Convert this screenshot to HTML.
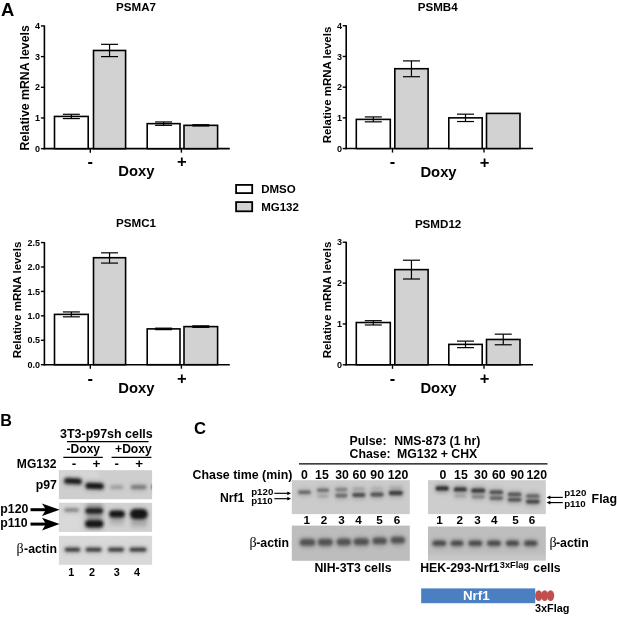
<!DOCTYPE html>
<html><head><meta charset="utf-8"><title>Figure</title>
<style>
html,body{margin:0;padding:0;background:#fff;}
body{width:617px;height:617px;overflow:hidden;position:relative;}
svg{position:absolute;left:0;top:0;display:block;}
svg text{font-family:"Liberation Sans", Arial, Helvetica, sans-serif;font-weight:bold;fill:#000;}
</style></head><body>
<svg width="617" height="617" viewBox="0 0 617 617">
<line x1="44.4" y1="25.43" x2="44.4" y2="149.4" stroke="#000" stroke-width="1.6"/>
<line x1="43.6" y1="148.65" x2="229.8" y2="148.65" stroke="#000" stroke-width="1.6"/>
<line x1="40.9" y1="148.65" x2="44.4" y2="148.65" stroke="#000" stroke-width="1.4"/>
<text x="40.1" y="151.75" font-size="9" text-anchor="end" >0</text>
<line x1="40.9" y1="117.97" x2="44.4" y2="117.97" stroke="#000" stroke-width="1.4"/>
<text x="40.1" y="121.07" font-size="9" text-anchor="end" >1</text>
<line x1="40.9" y1="87.29" x2="44.4" y2="87.29" stroke="#000" stroke-width="1.4"/>
<text x="40.1" y="90.39" font-size="9" text-anchor="end" >2</text>
<line x1="40.9" y1="56.61" x2="44.4" y2="56.61" stroke="#000" stroke-width="1.4"/>
<text x="40.1" y="59.71" font-size="9" text-anchor="end" >3</text>
<line x1="40.9" y1="25.93" x2="44.4" y2="25.93" stroke="#000" stroke-width="1.4"/>
<text x="40.1" y="29.03" font-size="9" text-anchor="end" >4</text>
<text x="136.1" y="11" font-size="11.6" text-anchor="middle" >PSMA7</text>
<rect x="54.5" y="116.44" width="33.7" height="32.21000000000001" fill="#fff" stroke="#000" stroke-width="1.6" />
<line x1="71.35" y1="114.29" x2="71.35" y2="118.58" stroke="#000" stroke-width="1.2"/>
<line x1="62.849999999999994" y1="114.29" x2="79.85" y2="114.29" stroke="#000" stroke-width="1.2"/>
<line x1="62.849999999999994" y1="118.58" x2="79.85" y2="118.58" stroke="#000" stroke-width="1.2"/>
<rect x="93.5" y="50.47" width="32.099999999999994" height="98.18" fill="#d2d2d2" stroke="#000" stroke-width="1.6" />
<line x1="109.55" y1="44.34" x2="109.55" y2="56.61" stroke="#000" stroke-width="1.2"/>
<line x1="101.05" y1="44.34" x2="118.05" y2="44.34" stroke="#000" stroke-width="1.2"/>
<line x1="101.05" y1="56.61" x2="118.05" y2="56.61" stroke="#000" stroke-width="1.2"/>
<rect x="147.2" y="123.65" width="32.80000000000001" height="25.0" fill="#fff" stroke="#000" stroke-width="1.6" />
<line x1="163.6" y1="121.96" x2="163.6" y2="125.33" stroke="#000" stroke-width="1.2"/>
<line x1="155.1" y1="121.96" x2="172.1" y2="121.96" stroke="#000" stroke-width="1.2"/>
<line x1="155.1" y1="125.33" x2="172.1" y2="125.33" stroke="#000" stroke-width="1.2"/>
<rect x="184" y="125.33" width="33.599999999999994" height="23.320000000000007" fill="#d2d2d2" stroke="#000" stroke-width="1.6" />
<line x1="200.8" y1="124.72" x2="200.8" y2="125.95" stroke="#000" stroke-width="1.2"/>
<line x1="192.3" y1="124.72" x2="209.3" y2="124.72" stroke="#000" stroke-width="1.2"/>
<line x1="192.3" y1="125.95" x2="209.3" y2="125.95" stroke="#000" stroke-width="1.2"/>
<line x1="90.3" y1="148.65" x2="90.3" y2="152.65" stroke="#000" stroke-width="1.4"/>
<line x1="181.4" y1="148.65" x2="181.4" y2="152.65" stroke="#000" stroke-width="1.4"/>
<text x="90.3" y="166.5" font-size="16.5" text-anchor="middle" >-</text>
<text x="181.9" y="167.2" font-size="16.5" text-anchor="middle" >+</text>
<text x="136.4" y="176.3" font-size="14.8" text-anchor="middle" >Doxy</text>
<text transform="translate(29.3,87.9) rotate(-90)" font-size="12.3" text-anchor="middle">Relative mRNA levels</text>
<line x1="346.2" y1="25.25" x2="346.2" y2="149.3" stroke="#000" stroke-width="1.6"/>
<line x1="345.4" y1="148.55" x2="533" y2="148.55" stroke="#000" stroke-width="1.6"/>
<line x1="342.7" y1="148.55" x2="346.2" y2="148.55" stroke="#000" stroke-width="1.4"/>
<text x="341.9" y="151.65" font-size="9" text-anchor="end" >0</text>
<line x1="342.7" y1="117.85" x2="346.2" y2="117.85" stroke="#000" stroke-width="1.4"/>
<text x="341.9" y="120.94999999999999" font-size="9" text-anchor="end" >1</text>
<line x1="342.7" y1="87.15" x2="346.2" y2="87.15" stroke="#000" stroke-width="1.4"/>
<text x="341.9" y="90.25" font-size="9" text-anchor="end" >2</text>
<line x1="342.7" y1="56.45" x2="346.2" y2="56.45" stroke="#000" stroke-width="1.4"/>
<text x="341.9" y="59.550000000000004" font-size="9" text-anchor="end" >3</text>
<line x1="342.7" y1="25.75" x2="346.2" y2="25.75" stroke="#000" stroke-width="1.4"/>
<text x="341.9" y="28.85" font-size="9" text-anchor="end" >4</text>
<text x="437.7" y="11" font-size="11.6" text-anchor="middle" >PSMB4</text>
<rect x="356.3" y="119.39" width="34.0" height="29.16000000000001" fill="#fff" stroke="#000" stroke-width="1.6" />
<line x1="373.3" y1="116.93" x2="373.3" y2="121.84" stroke="#000" stroke-width="1.2"/>
<line x1="364.8" y1="116.93" x2="381.8" y2="116.93" stroke="#000" stroke-width="1.2"/>
<line x1="364.8" y1="121.84" x2="381.8" y2="121.84" stroke="#000" stroke-width="1.2"/>
<rect x="394.8" y="68.73" width="33.30000000000001" height="79.82000000000001" fill="#d2d2d2" stroke="#000" stroke-width="1.6" />
<line x1="411.45000000000005" y1="60.9" x2="411.45000000000005" y2="76.71" stroke="#000" stroke-width="1.2"/>
<line x1="402.95000000000005" y1="60.9" x2="419.95000000000005" y2="60.9" stroke="#000" stroke-width="1.2"/>
<line x1="402.95000000000005" y1="76.71" x2="419.95000000000005" y2="76.71" stroke="#000" stroke-width="1.2"/>
<rect x="448.8" y="117.85" width="33.39999999999998" height="30.700000000000017" fill="#fff" stroke="#000" stroke-width="1.6" />
<line x1="465.5" y1="114.17" x2="465.5" y2="121.53" stroke="#000" stroke-width="1.2"/>
<line x1="457.0" y1="114.17" x2="474.0" y2="114.17" stroke="#000" stroke-width="1.2"/>
<line x1="457.0" y1="121.53" x2="474.0" y2="121.53" stroke="#000" stroke-width="1.2"/>
<rect x="486.5" y="113.4" width="33.5" height="35.150000000000006" fill="#d2d2d2" stroke="#000" stroke-width="1.6" />
<line x1="392.5" y1="148.55" x2="392.5" y2="152.55" stroke="#000" stroke-width="1.4"/>
<line x1="484.0" y1="148.55" x2="484.0" y2="152.55" stroke="#000" stroke-width="1.4"/>
<text x="392.5" y="166.8" font-size="16.5" text-anchor="middle" >-</text>
<text x="484.5" y="167.5" font-size="16.5" text-anchor="middle" >+</text>
<text x="438.5" y="176.6" font-size="14.8" text-anchor="middle" >Doxy</text>
<text transform="translate(330.6,85.0) rotate(-90)" font-size="11.45" text-anchor="middle">Relative mRNA levels</text>
<line x1="44.4" y1="242.07" x2="44.4" y2="365.45" stroke="#000" stroke-width="1.6"/>
<line x1="43.6" y1="364.7" x2="229.8" y2="364.7" stroke="#000" stroke-width="1.6"/>
<line x1="40.9" y1="364.7" x2="44.4" y2="364.7" stroke="#000" stroke-width="1.4"/>
<text x="40.1" y="367.8" font-size="9" text-anchor="end" >0.0</text>
<line x1="40.9" y1="340.27" x2="44.4" y2="340.27" stroke="#000" stroke-width="1.4"/>
<text x="40.1" y="343.37" font-size="9" text-anchor="end" >0.5</text>
<line x1="40.9" y1="315.85" x2="44.4" y2="315.85" stroke="#000" stroke-width="1.4"/>
<text x="40.1" y="318.95000000000005" font-size="9" text-anchor="end" >1.0</text>
<line x1="40.9" y1="291.42" x2="44.4" y2="291.42" stroke="#000" stroke-width="1.4"/>
<text x="40.1" y="294.52000000000004" font-size="9" text-anchor="end" >1.5</text>
<line x1="40.9" y1="267.0" x2="44.4" y2="267.0" stroke="#000" stroke-width="1.4"/>
<text x="40.1" y="270.1" font-size="9" text-anchor="end" >2.0</text>
<line x1="40.9" y1="242.57" x2="44.4" y2="242.57" stroke="#000" stroke-width="1.4"/>
<text x="40.1" y="245.67" font-size="9" text-anchor="end" >2.5</text>
<text x="136" y="227.3" font-size="11.6" text-anchor="middle" >PSMC1</text>
<rect x="54.5" y="314.38" width="33.7" height="50.31999999999999" fill="#fff" stroke="#000" stroke-width="1.6" />
<line x1="71.35" y1="311.94" x2="71.35" y2="316.83" stroke="#000" stroke-width="1.2"/>
<line x1="62.849999999999994" y1="311.94" x2="79.85" y2="311.94" stroke="#000" stroke-width="1.2"/>
<line x1="62.849999999999994" y1="316.83" x2="79.85" y2="316.83" stroke="#000" stroke-width="1.2"/>
<rect x="93.5" y="257.72" width="32.099999999999994" height="106.97999999999996" fill="#d2d2d2" stroke="#000" stroke-width="1.6" />
<line x1="109.55" y1="252.83" x2="109.55" y2="263.09" stroke="#000" stroke-width="1.2"/>
<line x1="101.05" y1="252.83" x2="118.05" y2="252.83" stroke="#000" stroke-width="1.2"/>
<line x1="101.05" y1="263.09" x2="118.05" y2="263.09" stroke="#000" stroke-width="1.2"/>
<rect x="147.2" y="328.89" width="32.80000000000001" height="35.81" fill="#fff" stroke="#000" stroke-width="1.6" />
<line x1="163.6" y1="328.16" x2="163.6" y2="329.63" stroke="#000" stroke-width="1.2"/>
<line x1="155.1" y1="328.16" x2="172.1" y2="328.16" stroke="#000" stroke-width="1.2"/>
<line x1="155.1" y1="329.63" x2="172.1" y2="329.63" stroke="#000" stroke-width="1.2"/>
<rect x="184" y="326.6" width="33.599999999999994" height="38.099999999999966" fill="#d2d2d2" stroke="#000" stroke-width="1.6" />
<line x1="200.8" y1="325.86" x2="200.8" y2="327.33" stroke="#000" stroke-width="1.2"/>
<line x1="192.3" y1="325.86" x2="209.3" y2="325.86" stroke="#000" stroke-width="1.2"/>
<line x1="192.3" y1="327.33" x2="209.3" y2="327.33" stroke="#000" stroke-width="1.2"/>
<line x1="90.3" y1="364.7" x2="90.3" y2="368.7" stroke="#000" stroke-width="1.4"/>
<line x1="181.4" y1="364.7" x2="181.4" y2="368.7" stroke="#000" stroke-width="1.4"/>
<text x="90.3" y="383.7" font-size="16.5" text-anchor="middle" >-</text>
<text x="181.9" y="384.4" font-size="16.5" text-anchor="middle" >+</text>
<text x="136.4" y="393" font-size="14.8" text-anchor="middle" >Doxy</text>
<text transform="translate(21.4,300) rotate(-90)" font-size="11.45" text-anchor="middle">Relative mRNA levels</text>
<line x1="346.2" y1="241.75" x2="346.2" y2="365.55" stroke="#000" stroke-width="1.6"/>
<line x1="345.4" y1="364.8" x2="533" y2="364.8" stroke="#000" stroke-width="1.6"/>
<line x1="342.7" y1="364.8" x2="346.2" y2="364.8" stroke="#000" stroke-width="1.4"/>
<text x="341.9" y="367.90000000000003" font-size="9" text-anchor="end" >0</text>
<line x1="342.7" y1="323.95" x2="346.2" y2="323.95" stroke="#000" stroke-width="1.4"/>
<text x="341.9" y="327.05" font-size="9" text-anchor="end" >1</text>
<line x1="342.7" y1="283.1" x2="346.2" y2="283.1" stroke="#000" stroke-width="1.4"/>
<text x="341.9" y="286.20000000000005" font-size="9" text-anchor="end" >2</text>
<line x1="342.7" y1="242.25" x2="346.2" y2="242.25" stroke="#000" stroke-width="1.4"/>
<text x="341.9" y="245.35" font-size="9" text-anchor="end" >3</text>
<text x="438.1" y="227.5" font-size="11.6" text-anchor="middle" >PSMD12</text>
<rect x="356.3" y="322.52" width="34.0" height="42.28000000000003" fill="#fff" stroke="#000" stroke-width="1.6" />
<line x1="373.3" y1="320.68" x2="373.3" y2="324.97" stroke="#000" stroke-width="1.2"/>
<line x1="364.8" y1="320.68" x2="381.8" y2="320.68" stroke="#000" stroke-width="1.2"/>
<line x1="364.8" y1="324.97" x2="381.8" y2="324.97" stroke="#000" stroke-width="1.2"/>
<rect x="394.8" y="269.62" width="33.30000000000001" height="95.18" fill="#d2d2d2" stroke="#000" stroke-width="1.6" />
<line x1="411.45000000000005" y1="260.22" x2="411.45000000000005" y2="279.01" stroke="#000" stroke-width="1.2"/>
<line x1="402.95000000000005" y1="260.22" x2="419.95000000000005" y2="260.22" stroke="#000" stroke-width="1.2"/>
<line x1="402.95000000000005" y1="279.01" x2="419.95000000000005" y2="279.01" stroke="#000" stroke-width="1.2"/>
<rect x="448.8" y="344.38" width="33.39999999999998" height="20.420000000000016" fill="#fff" stroke="#000" stroke-width="1.6" />
<line x1="465.5" y1="341.11" x2="465.5" y2="347.64" stroke="#000" stroke-width="1.2"/>
<line x1="457.0" y1="341.11" x2="474.0" y2="341.11" stroke="#000" stroke-width="1.2"/>
<line x1="457.0" y1="347.64" x2="474.0" y2="347.64" stroke="#000" stroke-width="1.2"/>
<rect x="486.5" y="339.47" width="33.5" height="25.329999999999984" fill="#d2d2d2" stroke="#000" stroke-width="1.6" />
<line x1="503.25" y1="334.16" x2="503.25" y2="344.78" stroke="#000" stroke-width="1.2"/>
<line x1="494.75" y1="334.16" x2="511.75" y2="334.16" stroke="#000" stroke-width="1.2"/>
<line x1="494.75" y1="344.78" x2="511.75" y2="344.78" stroke="#000" stroke-width="1.2"/>
<line x1="392.5" y1="364.8" x2="392.5" y2="368.8" stroke="#000" stroke-width="1.4"/>
<line x1="484.0" y1="364.8" x2="484.0" y2="368.8" stroke="#000" stroke-width="1.4"/>
<text x="392.5" y="383.7" font-size="16.5" text-anchor="middle" >-</text>
<text x="484.5" y="384.4" font-size="16.5" text-anchor="middle" >+</text>
<text x="438.5" y="393" font-size="14.8" text-anchor="middle" >Doxy</text>
<text transform="translate(330.6,300) rotate(-90)" font-size="11.45" text-anchor="middle">Relative mRNA levels</text>
<rect x="236.1" y="184.9" width="16.1" height="8.2" fill="#fff" stroke="#000" stroke-width="1.8" />
<rect x="236.1" y="202.1" width="16.1" height="9.2" fill="#d2d2d2" stroke="#000" stroke-width="1.8" />
<text x="261.2" y="193.3" font-size="11.5" text-anchor="start" >DMSO</text>
<text x="261.2" y="211.0" font-size="11.5" text-anchor="start" >MG132</text>
<text x="0.9" y="15.6" font-size="18.4" text-anchor="start" >A</text>
<text x="0.3" y="426.2" font-size="16.2" text-anchor="start" >B</text>
<text x="194.0" y="433.8" font-size="16.6" text-anchor="start" >C</text>
<defs><filter id="b0" x="-30%" y="-100%" width="160%" height="300%"><feGaussianBlur stdDeviation="1.0"/></filter><filter id="b1" x="-30%" y="-100%" width="160%" height="300%"><feGaussianBlur stdDeviation="1.5"/></filter><filter id="b2" x="-30%" y="-100%" width="160%" height="300%"><feGaussianBlur stdDeviation="2.0"/></filter></defs>
<text x="106.4" y="437.8" font-size="12.45" text-anchor="middle" >3T3-p97sh cells</text>
<line x1="67" y1="441.6" x2="148.5" y2="441.6" stroke="#000" stroke-width="1.3"/>
<text x="83.3" y="453.3" font-size="12.1" text-anchor="middle" >-Doxy</text>
<text x="133.4" y="453.3" font-size="12.1" text-anchor="middle" >+Doxy</text>
<line x1="63.3" y1="457.3" x2="102.8" y2="457.3" stroke="#000" stroke-width="1.3"/>
<line x1="111.6" y1="457.3" x2="151.4" y2="457.3" stroke="#000" stroke-width="1.3"/>
<text x="56.5" y="467.8" font-size="12.1" text-anchor="end" >MG132</text>
<text x="73.9" y="468.3" font-size="13.5" text-anchor="middle" >-</text>
<text x="96.5" y="468.3" font-size="13.5" text-anchor="middle" >+</text>
<text x="116.7" y="468.3" font-size="13.5" text-anchor="middle" >-</text>
<text x="139.3" y="468.3" font-size="13.5" text-anchor="middle" >+</text>
<clipPath id="cb1"><rect x="58.9" y="470.2" width="93.2" height="29.0"/></clipPath>
<rect x="58.9" y="470.2" width="93.2" height="29.0" fill="#cecece"/>
<g clip-path="url(#cb1)">
<rect x="58.9" y="470.2" width="40" height="8" fill="#dcdcdc" opacity="0.6" filter="url(#b2)"/>
<rect x="63.25" y="476.30" width="19.50" height="10.30" rx="4.90" fill="#1c1c1c" opacity="0.15" filter="url(#b2)" transform="rotate(3 73.0 481.2)"/>
<rect x="64.25" y="478.30" width="17.50" height="5.80" rx="2.90" fill="#1c1c1c" opacity="1" filter="url(#b1)" transform="rotate(3 73.0 481.2)"/>
<rect x="84.35" y="480.90" width="20.50" height="10.70" rx="5.10" fill="#181818" opacity="0.15" filter="url(#b2)" transform="rotate(2 94.6 486.0)"/>
<rect x="85.35" y="482.90" width="18.50" height="6.20" rx="3.10" fill="#181818" opacity="1" filter="url(#b1)" transform="rotate(2 94.6 486.0)"/>
<rect x="109.30" y="483.50" width="15.00" height="7.90" rx="3.70" fill="#777" opacity="0.08" filter="url(#b2)"/>
<rect x="110.30" y="485.50" width="13.00" height="3.40" rx="1.70" fill="#777" opacity="0.55" filter="url(#b1)"/>
<rect x="129.85" y="483.10" width="17.50" height="8.70" rx="4.10" fill="#5a5a5a" opacity="0.10" filter="url(#b2)"/>
<rect x="130.85" y="485.10" width="15.50" height="4.20" rx="2.10" fill="#5a5a5a" opacity="0.7" filter="url(#b1)"/>
<rect x="151.05" y="484.00" width="2.50" height="6.00" rx="3.00" fill="#555" opacity="0.7" filter="url(#b0)"/>
</g>
<clipPath id="cb2"><rect x="58.9" y="502.8" width="93.2" height="29.1"/></clipPath>
<rect x="58.9" y="502.8" width="93.2" height="29.1" fill="#d2d2d2"/>
<g clip-path="url(#cb2)">
<rect x="58.9" y="503" width="22" height="29" fill="#e0e0e0" opacity="0.5" filter="url(#b2)"/>
<rect x="86.5" y="503" width="16" height="24" fill="#333" opacity="0.28" filter="url(#b2)"/>
<rect x="110" y="512" width="14" height="13" fill="#333" opacity="0.18" filter="url(#b2)"/>
<rect x="131" y="512" width="16" height="15" fill="#333" opacity="0.22" filter="url(#b2)"/>
<rect x="63.35" y="506.40" width="16.50" height="7.70" rx="3.60" fill="#555" opacity="0.10" filter="url(#b2)"/>
<rect x="64.35" y="508.40" width="14.50" height="3.20" rx="1.60" fill="#555" opacity="0.7" filter="url(#b1)"/>
<rect x="84.45" y="506.20" width="19.50" height="9.70" rx="4.60" fill="#1a1a1a" opacity="0.15" filter="url(#b2)"/>
<rect x="85.45" y="508.20" width="17.50" height="5.20" rx="2.60" fill="#1a1a1a" opacity="1" filter="url(#b1)"/>
<rect x="84.20" y="518.20" width="20.00" height="11.70" rx="5.60" fill="#161616" opacity="0.15" filter="url(#b2)"/>
<rect x="85.20" y="520.20" width="18.00" height="7.20" rx="3.60" fill="#161616" opacity="1" filter="url(#b1)"/>
<rect x="108.25" y="508.40" width="17.50" height="11.70" rx="5.60" fill="#181818" opacity="0.15" filter="url(#b2)"/>
<rect x="109.25" y="510.40" width="15.50" height="7.20" rx="3.60" fill="#181818" opacity="1" filter="url(#b1)"/>
<rect x="129.05" y="506.90" width="19.50" height="14.70" rx="7.10" fill="#141414" opacity="0.15" filter="url(#b2)"/>
<rect x="130.05" y="508.90" width="17.50" height="10.20" rx="5.10" fill="#141414" opacity="1" filter="url(#b1)"/>
</g>
<clipPath id="cb3"><rect x="58.9" y="535.8" width="93.2" height="29.0"/></clipPath>
<rect x="58.9" y="535.8" width="93.2" height="29.0" fill="#d9d9d9"/>
<g clip-path="url(#cb3)">
<rect x="63.75" y="545.70" width="17.50" height="8.30" rx="3.90" fill="#2a2a2a" opacity="0.14" filter="url(#b2)"/>
<rect x="64.75" y="547.70" width="15.50" height="3.80" rx="1.90" fill="#2a2a2a" opacity="0.95" filter="url(#b1)"/>
<rect x="84.60" y="545.70" width="18.00" height="8.30" rx="3.90" fill="#2a2a2a" opacity="0.14" filter="url(#b2)"/>
<rect x="85.60" y="547.70" width="16.00" height="3.80" rx="1.90" fill="#2a2a2a" opacity="0.95" filter="url(#b1)"/>
<rect x="107.00" y="545.70" width="18.00" height="8.30" rx="3.90" fill="#2a2a2a" opacity="0.14" filter="url(#b2)"/>
<rect x="108.00" y="547.70" width="16.00" height="3.80" rx="1.90" fill="#2a2a2a" opacity="0.95" filter="url(#b1)"/>
<rect x="128.50" y="545.70" width="19.00" height="8.30" rx="3.90" fill="#2a2a2a" opacity="0.14" filter="url(#b2)"/>
<rect x="129.50" y="547.70" width="17.00" height="3.80" rx="1.90" fill="#2a2a2a" opacity="0.95" filter="url(#b1)"/>
</g>
<text x="56.9" y="488.7" font-size="12.3" text-anchor="end" >p97</text>
<text x="0.3" y="513.0" font-size="12.3" text-anchor="start" >p120</text>
<text x="0.3" y="526.7" font-size="12.3" text-anchor="start" >p110</text>
<text x="56.9" y="552.6" font-size="12.3" text-anchor="end" >-actin</text>
<text x="16.6" y="552.6" font-size="14" style="font-family:'Liberation Serif','DejaVu Serif',serif;font-weight:normal;font-style:normal">β</text>
<line x1="30.5" y1="509.7" x2="46" y2="509.7" stroke="#000" stroke-width="3.0"/>
<polygon points="59.6,509.7 42.0,503.4 46.0,509.7 42.0,516.0" fill="#000"/>
<line x1="30.5" y1="524.1" x2="46" y2="524.1" stroke="#000" stroke-width="3.0"/>
<polygon points="59.6,524.1 42.0,517.8000000000001 46.0,524.1 42.0,530.4" fill="#000"/>
<text x="71.3" y="576" font-size="10.8" text-anchor="middle" >1</text>
<text x="92" y="576" font-size="10.8" text-anchor="middle" >2</text>
<text x="116.7" y="576" font-size="10.8" text-anchor="middle" >3</text>
<text x="136.9" y="576" font-size="10.8" text-anchor="middle" >4</text>
<text x="349.6" y="444.8" font-size="12.3" text-anchor="start" >Pulse:</text>
<text x="394.2" y="444.8" font-size="12.3" text-anchor="start" >NMS-873 (1 hr)</text>
<text x="349.6" y="458.0" font-size="12.3" text-anchor="start" >Chase:</text>
<text x="397" y="458.0" font-size="12.3" text-anchor="start" >MG132 + CHX</text>
<line x1="299" y1="463.9" x2="547.5" y2="463.9" stroke="#000" stroke-width="1.3"/>
<text x="292.4" y="478.6" font-size="12.4" text-anchor="end" >Chase time (min)</text>
<text x="304.3" y="478.6" font-size="12.3" text-anchor="middle" >0</text>
<text x="321.9" y="478.6" font-size="12.3" text-anchor="middle" >15</text>
<text x="342.1" y="478.6" font-size="12.3" text-anchor="middle" >30</text>
<text x="359.4" y="478.6" font-size="12.3" text-anchor="middle" >60</text>
<text x="377.2" y="478.6" font-size="12.3" text-anchor="middle" >90</text>
<text x="398.0" y="478.6" font-size="12.3" text-anchor="middle" >120</text>
<text x="442.9" y="478.9" font-size="12.3" text-anchor="middle" >0</text>
<text x="460.9" y="478.9" font-size="12.3" text-anchor="middle" >15</text>
<text x="480.9" y="478.9" font-size="12.3" text-anchor="middle" >30</text>
<text x="498.8" y="478.9" font-size="12.3" text-anchor="middle" >60</text>
<text x="517.3" y="478.9" font-size="12.3" text-anchor="middle" >90</text>
<text x="536.8" y="478.9" font-size="12.3" text-anchor="middle" >120</text>
<clipPath id="cc1"><rect x="291.8" y="480.2" width="118.0" height="33.9"/></clipPath>
<rect x="291.8" y="480.2" width="118.0" height="33.9" fill="#cbcbcb"/>
<g clip-path="url(#cc1)">
<rect x="297.25" y="488.50" width="14.50" height="7.90" rx="3.70" fill="#555" opacity="0.24" filter="url(#b2)"/>
<rect x="298.25" y="490.50" width="12.50" height="3.40" rx="1.70" fill="#555" opacity="0.8" filter="url(#b0)"/>
<rect x="316.00" y="486.60" width="14.00" height="7.90" rx="3.70" fill="#555" opacity="0.21" filter="url(#b2)"/>
<rect x="317.00" y="488.60" width="12.00" height="3.40" rx="1.70" fill="#555" opacity="0.7" filter="url(#b0)"/>
<rect x="316.50" y="492.70" width="13.00" height="7.50" rx="3.50" fill="#777" opacity="0.10" filter="url(#b2)"/>
<rect x="317.50" y="494.70" width="11.00" height="3.00" rx="1.50" fill="#777" opacity="0.35" filter="url(#b0)"/>
<rect x="334.30" y="485.80" width="14.00" height="7.90" rx="3.70" fill="#666" opacity="0.20" filter="url(#b2)"/>
<rect x="335.30" y="487.80" width="12.00" height="3.40" rx="1.70" fill="#666" opacity="0.65" filter="url(#b0)"/>
<rect x="334.30" y="491.80" width="14.00" height="8.10" rx="3.80" fill="#555" opacity="0.22" filter="url(#b2)"/>
<rect x="335.30" y="493.80" width="12.00" height="3.60" rx="1.80" fill="#555" opacity="0.75" filter="url(#b0)"/>
<rect x="351.55" y="485.10" width="14.50" height="7.90" rx="3.70" fill="#888" opacity="0.12" filter="url(#b2)"/>
<rect x="352.55" y="487.10" width="12.50" height="3.40" rx="1.70" fill="#888" opacity="0.4" filter="url(#b0)"/>
<rect x="351.30" y="491.00" width="15.00" height="8.50" rx="4.00" fill="#404040" opacity="0.26" filter="url(#b2)"/>
<rect x="352.30" y="493.00" width="13.00" height="4.00" rx="2.00" fill="#404040" opacity="0.85" filter="url(#b0)"/>
<rect x="369.75" y="484.50" width="14.50" height="7.90" rx="3.70" fill="#999" opacity="0.10" filter="url(#b2)"/>
<rect x="370.75" y="486.50" width="12.50" height="3.40" rx="1.70" fill="#999" opacity="0.35" filter="url(#b0)"/>
<rect x="369.50" y="490.40" width="15.00" height="8.50" rx="4.00" fill="#444" opacity="0.26" filter="url(#b2)"/>
<rect x="370.50" y="492.40" width="13.00" height="4.00" rx="2.00" fill="#444" opacity="0.85" filter="url(#b0)"/>
<rect x="388.30" y="483.40" width="15.00" height="8.10" rx="3.80" fill="#999" opacity="0.10" filter="url(#b2)"/>
<rect x="389.30" y="485.40" width="13.00" height="3.60" rx="1.80" fill="#999" opacity="0.35" filter="url(#b0)"/>
<rect x="387.80" y="488.70" width="16.00" height="9.10" rx="4.30" fill="#383838" opacity="0.27" filter="url(#b2)"/>
<rect x="388.80" y="490.70" width="14.00" height="4.60" rx="2.30" fill="#383838" opacity="0.9" filter="url(#b0)"/>
</g>
<clipPath id="cc2"><rect x="291.8" y="525.6" width="118.0" height="35.2"/></clipPath>
<rect x="291.8" y="525.6" width="118.0" height="35.2" fill="#bdbdbd"/>
<g clip-path="url(#cc2)">
<rect x="299.00" y="537.20" width="17.00" height="10.90" rx="5.20" fill="#484848" opacity="0.27" filter="url(#b2)"/>
<rect x="300.00" y="539.20" width="15.00" height="6.40" rx="3.20" fill="#484848" opacity="0.9" filter="url(#b1)"/>
<rect x="317.05" y="537.10" width="16.50" height="10.90" rx="5.20" fill="#484848" opacity="0.27" filter="url(#b2)"/>
<rect x="318.05" y="539.10" width="14.50" height="6.40" rx="3.20" fill="#484848" opacity="0.9" filter="url(#b1)"/>
<rect x="335.80" y="536.80" width="16.00" height="10.90" rx="5.20" fill="#484848" opacity="0.27" filter="url(#b2)"/>
<rect x="336.80" y="538.80" width="14.00" height="6.40" rx="3.20" fill="#484848" opacity="0.9" filter="url(#b1)"/>
<rect x="352.80" y="536.50" width="17.00" height="10.90" rx="5.20" fill="#484848" opacity="0.27" filter="url(#b2)"/>
<rect x="353.80" y="538.50" width="15.00" height="6.40" rx="3.20" fill="#484848" opacity="0.9" filter="url(#b1)"/>
<rect x="371.60" y="535.70" width="16.00" height="10.90" rx="5.20" fill="#484848" opacity="0.27" filter="url(#b2)"/>
<rect x="372.60" y="537.70" width="14.00" height="6.40" rx="3.20" fill="#484848" opacity="0.9" filter="url(#b1)"/>
<rect x="389.80" y="534.90" width="16.00" height="10.90" rx="5.20" fill="#484848" opacity="0.27" filter="url(#b2)"/>
<rect x="390.80" y="536.90" width="14.00" height="6.40" rx="3.20" fill="#484848" opacity="0.9" filter="url(#b1)"/>
</g>
<clipPath id="cc3"><rect x="428" y="480.2" width="117.8" height="33.9"/></clipPath>
<rect x="428" y="480.2" width="117.8" height="33.9" fill="#cdcdcd"/>
<g clip-path="url(#cc3)">
<rect x="434.70" y="484.20" width="15.00" height="8.90" rx="4.20" fill="#2c2c2c" opacity="0.28" filter="url(#b2)"/>
<rect x="435.70" y="486.20" width="13.00" height="4.40" rx="2.20" fill="#2c2c2c" opacity="0.95" filter="url(#b0)"/>
<rect x="452.80" y="485.20" width="15.00" height="8.90" rx="4.20" fill="#303030" opacity="0.27" filter="url(#b2)"/>
<rect x="453.80" y="487.20" width="13.00" height="4.40" rx="2.20" fill="#303030" opacity="0.9" filter="url(#b0)"/>
<rect x="453.30" y="492.40" width="14.00" height="7.50" rx="3.50" fill="#777" opacity="0.12" filter="url(#b2)"/>
<rect x="454.30" y="494.40" width="12.00" height="3.00" rx="1.50" fill="#777" opacity="0.4" filter="url(#b0)"/>
<rect x="470.20" y="486.60" width="16.00" height="8.70" rx="4.10" fill="#333" opacity="0.27" filter="url(#b2)"/>
<rect x="471.20" y="488.60" width="14.00" height="4.20" rx="2.10" fill="#333" opacity="0.9" filter="url(#b0)"/>
<rect x="470.70" y="493.10" width="15.00" height="7.90" rx="3.70" fill="#666" opacity="0.18" filter="url(#b2)"/>
<rect x="471.70" y="495.10" width="13.00" height="3.40" rx="1.70" fill="#666" opacity="0.6" filter="url(#b0)"/>
<rect x="488.55" y="488.30" width="15.50" height="8.50" rx="4.00" fill="#444" opacity="0.26" filter="url(#b2)"/>
<rect x="489.55" y="490.30" width="13.50" height="4.00" rx="2.00" fill="#444" opacity="0.85" filter="url(#b0)"/>
<rect x="488.55" y="494.20" width="15.50" height="8.30" rx="3.90" fill="#555" opacity="0.24" filter="url(#b2)"/>
<rect x="489.55" y="496.20" width="13.50" height="3.80" rx="1.90" fill="#555" opacity="0.8" filter="url(#b0)"/>
<rect x="506.85" y="490.60" width="15.50" height="8.10" rx="3.80" fill="#4a4a4a" opacity="0.26" filter="url(#b2)"/>
<rect x="507.85" y="492.60" width="13.50" height="3.60" rx="1.80" fill="#4a4a4a" opacity="0.85" filter="url(#b0)"/>
<rect x="506.85" y="496.00" width="15.50" height="8.10" rx="3.80" fill="#444" opacity="0.26" filter="url(#b2)"/>
<rect x="507.85" y="498.00" width="13.50" height="3.60" rx="1.80" fill="#444" opacity="0.85" filter="url(#b0)"/>
<rect x="525.05" y="492.30" width="15.50" height="7.90" rx="3.70" fill="#555" opacity="0.24" filter="url(#b2)"/>
<rect x="526.05" y="494.30" width="13.50" height="3.40" rx="1.70" fill="#555" opacity="0.8" filter="url(#b0)"/>
<rect x="525.05" y="497.70" width="15.50" height="8.30" rx="3.90" fill="#3a3a3a" opacity="0.27" filter="url(#b2)"/>
<rect x="526.05" y="499.70" width="13.50" height="3.80" rx="1.90" fill="#3a3a3a" opacity="0.9" filter="url(#b0)"/>
</g>
<clipPath id="cc4"><rect x="428" y="526.5" width="117.8" height="34.0"/></clipPath>
<rect x="428" y="526.5" width="117.8" height="34.0" fill="#bebebe"/>
<g clip-path="url(#cc4)">
<rect x="428" y="555" width="118" height="6" fill="#d0d0d0" opacity="0.55" filter="url(#b1)"/>
<rect x="431.55" y="538.80" width="15.50" height="9.50" rx="4.50" fill="#3c3c3c" opacity="0.23" filter="url(#b2)"/>
<rect x="432.55" y="540.80" width="13.50" height="5.00" rx="2.50" fill="#3c3c3c" opacity="0.9" filter="url(#b1)"/>
<rect x="449.75" y="538.80" width="14.50" height="9.50" rx="4.50" fill="#3c3c3c" opacity="0.23" filter="url(#b2)"/>
<rect x="450.75" y="540.80" width="12.50" height="5.00" rx="2.50" fill="#3c3c3c" opacity="0.9" filter="url(#b1)"/>
<rect x="467.55" y="538.80" width="15.50" height="9.50" rx="4.50" fill="#3c3c3c" opacity="0.23" filter="url(#b2)"/>
<rect x="468.55" y="540.80" width="13.50" height="5.00" rx="2.50" fill="#3c3c3c" opacity="0.9" filter="url(#b1)"/>
<rect x="486.25" y="538.80" width="15.50" height="9.50" rx="4.50" fill="#3c3c3c" opacity="0.23" filter="url(#b2)"/>
<rect x="487.25" y="540.80" width="13.50" height="5.00" rx="2.50" fill="#3c3c3c" opacity="0.9" filter="url(#b1)"/>
<rect x="505.00" y="538.80" width="15.00" height="9.50" rx="4.50" fill="#3c3c3c" opacity="0.23" filter="url(#b2)"/>
<rect x="506.00" y="540.80" width="13.00" height="5.00" rx="2.50" fill="#3c3c3c" opacity="0.9" filter="url(#b1)"/>
<rect x="523.20" y="538.80" width="15.00" height="9.50" rx="4.50" fill="#3c3c3c" opacity="0.23" filter="url(#b2)"/>
<rect x="524.20" y="540.80" width="13.00" height="5.00" rx="2.50" fill="#3c3c3c" opacity="0.9" filter="url(#b1)"/>
</g>
<text x="244.3" y="501.8" font-size="12.2" text-anchor="end" >Nrf1</text>
<text x="251.2" y="494.6" font-size="9.7" text-anchor="start" >p120</text>
<text x="251.2" y="504.4" font-size="9.7" text-anchor="start" >p110</text>
<line x1="274.3" y1="493.3" x2="288.5" y2="493.3" stroke="#000" stroke-width="1.15"/>
<polygon points="291.0,493.3 287.3,491.40000000000003 287.3,495.2" fill="#000"/>
<line x1="274.3" y1="498.7" x2="288.5" y2="498.7" stroke="#000" stroke-width="1.15"/>
<polygon points="291.0,498.7 287.3,496.8 287.3,500.59999999999997" fill="#000"/>
<text x="306.8" y="524.2" font-size="11.7" text-anchor="middle" >1</text>
<text x="323.9" y="524.2" font-size="11.7" text-anchor="middle" >2</text>
<text x="341.4" y="524.2" font-size="11.7" text-anchor="middle" >3</text>
<text x="358.5" y="524.2" font-size="11.7" text-anchor="middle" >4</text>
<text x="379.5" y="524.2" font-size="11.7" text-anchor="middle" >5</text>
<text x="397" y="524.2" font-size="11.7" text-anchor="middle" >6</text>
<text x="439.4" y="524.4" font-size="11.7" text-anchor="middle" >1</text>
<text x="459.8" y="524.4" font-size="11.7" text-anchor="middle" >2</text>
<text x="477.4" y="524.4" font-size="11.7" text-anchor="middle" >3</text>
<text x="494.3" y="524.4" font-size="11.7" text-anchor="middle" >4</text>
<text x="515.4" y="524.4" font-size="11.7" text-anchor="middle" >5</text>
<text x="531.9" y="524.4" font-size="11.7" text-anchor="middle" >6</text>
<text x="289" y="547.3" font-size="12.3" text-anchor="end" >-actin</text>
<text x="249.5" y="547.3" font-size="14" style="font-family:'Liberation Serif','DejaVu Serif',serif;font-weight:normal;font-style:normal">β</text>
<text x="353" y="571.6" font-size="12.3" text-anchor="middle" >NIH-3T3 cells</text>
<line x1="549" y1="497.4" x2="562.8" y2="497.4" stroke="#000" stroke-width="1.15"/>
<polygon points="546.6,497.4 550.4,495.5 550.4,499.29999999999995" fill="#000"/>
<line x1="549" y1="502.6" x2="562.8" y2="502.6" stroke="#000" stroke-width="1.15"/>
<polygon points="546.6,502.6 550.4,500.70000000000005 550.4,504.5" fill="#000"/>
<text x="564.2" y="496.0" font-size="9.7" text-anchor="start" >p120</text>
<text x="564.2" y="506.5" font-size="9.7" text-anchor="start" >p110</text>
<text x="591.6" y="503.0" font-size="12.4" text-anchor="start" >Flag</text>
<text x="588.8" y="547.0" font-size="12.3" text-anchor="end" >-actin</text>
<text x="549.4" y="547.0" font-size="14" style="font-family:'Liberation Serif','DejaVu Serif',serif;font-weight:normal;font-style:normal">β</text>
<text x="420.2" y="572" font-size="12.3" text-anchor="start" >HEK-293-Nrf1</text>
<text x="499.8" y="568.0" font-size="9.2" text-anchor="start" >3xFlag</text>
<text x="533.3" y="572" font-size="12.3" text-anchor="start" >cells</text>
<rect x="421.2" y="588.4" width="114" height="14.8" fill="#4a7fc1"/>
<text x="476.3" y="600.2" font-size="13.3" text-anchor="middle" style="fill:#fff">Nrf1</text>
<ellipse cx="538.7" cy="595.6" rx="3.6" ry="5.4" fill="#c0504d"/>
<ellipse cx="544.7" cy="595.6" rx="3.6" ry="5.4" fill="#c0504d"/>
<ellipse cx="550.6" cy="595.6" rx="3.6" ry="5.4" fill="#c0504d"/>
<text x="535" y="611.6" font-size="10.9" text-anchor="start" >3xFlag</text>
<!--LOWER-->
</svg>
</body></html>
